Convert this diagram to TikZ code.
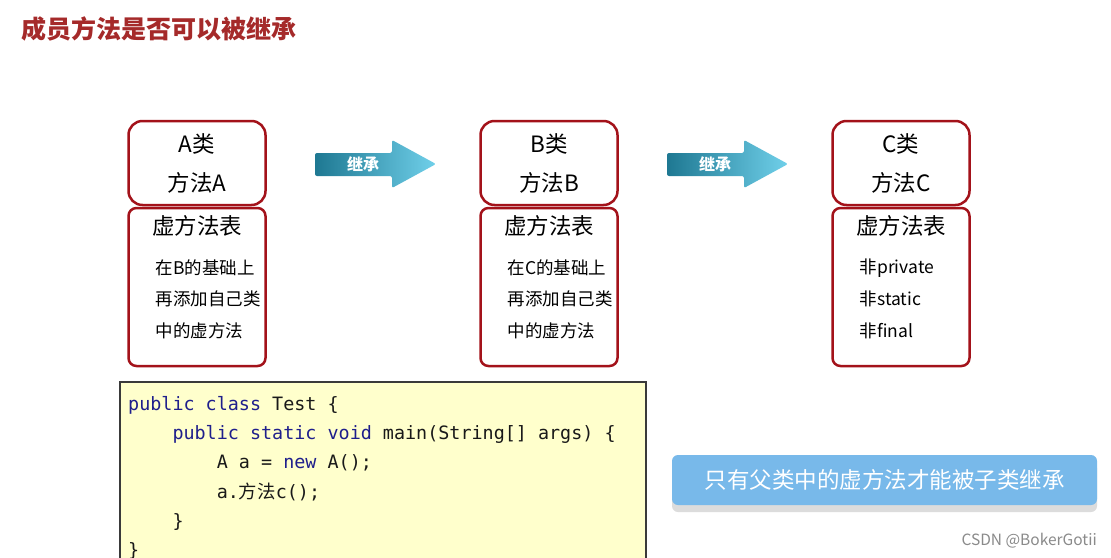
\documentclass[tikz,border=0pt]{standalone}
\usepackage{fontspec}
\setmainfont{Noto Sans CJK SC}
\setmonofont{DejaVu Sans Mono}
\newfontfamily\cjkfont{Noto Sans CJK SC}
\usepackage{xcolor}
\usetikzlibrary{positioning,calc,shadows}
\definecolor{HeadRed}{HTML}{A52A2A}
\definecolor{BoxRed}{HTML}{A3121A}
\definecolor{ArrDark}{HTML}{1E7892}
\definecolor{ArrLight}{HTML}{70D0EA}
\definecolor{CodeFill}{HTML}{FFFFCC}
\definecolor{CodeEdge}{HTML}{3A3A3A}
\definecolor{CodeKey}{HTML}{1F1F8C}
\definecolor{NoteBlue}{HTML}{78B9EA}
\definecolor{ShadowGray}{HTML}{DCDCDC}
\definecolor{WmGray}{HTML}{8A8A8A}
\newcommand{\codekw}[1]{\textcolor{CodeKey}{#1}}
\tikzset{
  clsbox/.style={draw=BoxRed, line width=2.5pt, rounded corners=14pt, outer sep=0pt,
                 minimum width=137pt, minimum height=84pt, align=center,
                 font=\fontsize{22.5}{39}\selectfont},
  vtbox/.style={clsbox, rounded corners=8pt, minimum height=158pt},
  vthead/.style={inner sep=0pt, font=\fontsize{22.5}{27}\selectfont},
  vline/.style={anchor=west, inner sep=0pt, font=\fontsize{17.5}{21}\selectfont},
  inherit/.style={left color=ArrDark, right color=ArrLight, rounded corners=2pt},
  inlabel/.style={text=white, inner sep=0pt, font=\bfseries\fontsize{16}{19}\selectfont},
  codebox/.style={draw=CodeEdge, fill=CodeFill, line width=1.5pt, anchor=north west,
                  minimum width=526pt, minimum height=200pt},
  codetext/.style={anchor=north west, inner sep=0pt, align=left, text=black!90,
                   font=\ttfamily\fontsize{18.4}{29.3}\selectfont},
  note/.style={fill=NoteBlue, text=white, rounded corners=6pt, minimum width=425pt,
               minimum height=50pt, font=\fontsize{22.5}{27}\selectfont,
               general shadow={fill=ShadowGray, shadow yshift=-7pt}},
  headline/.style={anchor=west, inner sep=0pt, text=HeadRed,
                   font=\bfseries\fontsize{25}{30}\selectfont},
  wmtext/.style={anchor=east, inner sep=0pt, text=WmGray, font=\fontsize{15.5}{18}\selectfont}
}
\begin{document}
\begin{tikzpicture}[x=1pt, y=-1pt]
  \path[use as bounding box, fill=white] (0,0) rectangle (1111,557);
  \clip (0,0) rectangle (1111,557);

  \node[headline] (head) at (21,29) {成员方法是否可以被继承};

  % classes
  \node[clsbox] (boxA) at (197,163) {A类\\方法A};
  \node[clsbox, right=215pt of boxA] (boxB) {B类\\方法B};
  \node[clsbox, right=215pt of boxB] (boxC) {C类\\方法C};
  \node[vtbox, below=3pt of boxA] (vtA) {};
  \node[vtbox, below=3pt of boxB] (vtB) {};
  \node[vtbox, below=3pt of boxC] (vtC) {};

  % virtual method tables
  \node[vthead, below=7pt of vtA.north] (hA) {虚方法表};
  \node[vthead, below=7pt of vtB.north] (hB) {虚方法表};
  \node[vthead, below=7pt of vtC.north] (hC) {虚方法表};
  \node[vline] (vA1) at ($(vtA.north west)+(27,60)$) {在B的基础上};
  \node[vline] (vA2) at ($(vtA.north west)+(27,91)$) {再添加自己类};
  \node[vline] (vA3) at ($(vtA.north west)+(27,123)$) {中的虚方法};
  \node[vline] (vB1) at ($(vtB.north west)+(27,60)$) {在C的基础上};
  \node[vline] (vB2) at ($(vtB.north west)+(27,91)$) {再添加自己类};
  \node[vline] (vB3) at ($(vtB.north west)+(27,123)$) {中的虚方法};
  \node[vline] (vC1) at ($(vtC.north west)+(27,60)$) {非private};
  \node[vline] (vC2) at ($(vtC.north west)+(27,91)$) {非static};
  \node[vline] (vC3) at ($(vtC.north west)+(27,123)$) {非final};

  % inheritance arrows
  \shade[inherit] (315,153) -- (392,153) -- (392,140) -- (436,164)
    -- (392,188) -- (392,176) -- (315,176) -- cycle;
  \node[inlabel] (inhAB) at (363,164) {继承};
  \shade[inherit] (667,153) -- (744,153) -- (744,140) -- (788,164)
    -- (744,188) -- (744,176) -- (667,176) -- cycle;
  \node[inlabel] (inhBC) at (715,164) {继承};

  % code
  \node[codebox] (code) at (119,381) {};
  \node[codetext] (src) at (128,396) {%
    \codekw{public} \codekw{class} Test \{\\
    \phantom{xxxx}\codekw{public} \codekw{static} \codekw{void} main(String[] args) \{\\
    \phantom{xxxxxxxx}A a = \codekw{new} A();\\
    \phantom{xxxxxxxx}a.{\cjkfont 方法}c();\\
    \phantom{xxxx}\}\\
    \}};

  \node[note] (note) at (884.5,480) {只有父类中的虚方法才能被子类继承};
  \node[wmtext] (wm) at (1097,541) {CSDN @BokerGotii};
\end{tikzpicture}
\end{document}
